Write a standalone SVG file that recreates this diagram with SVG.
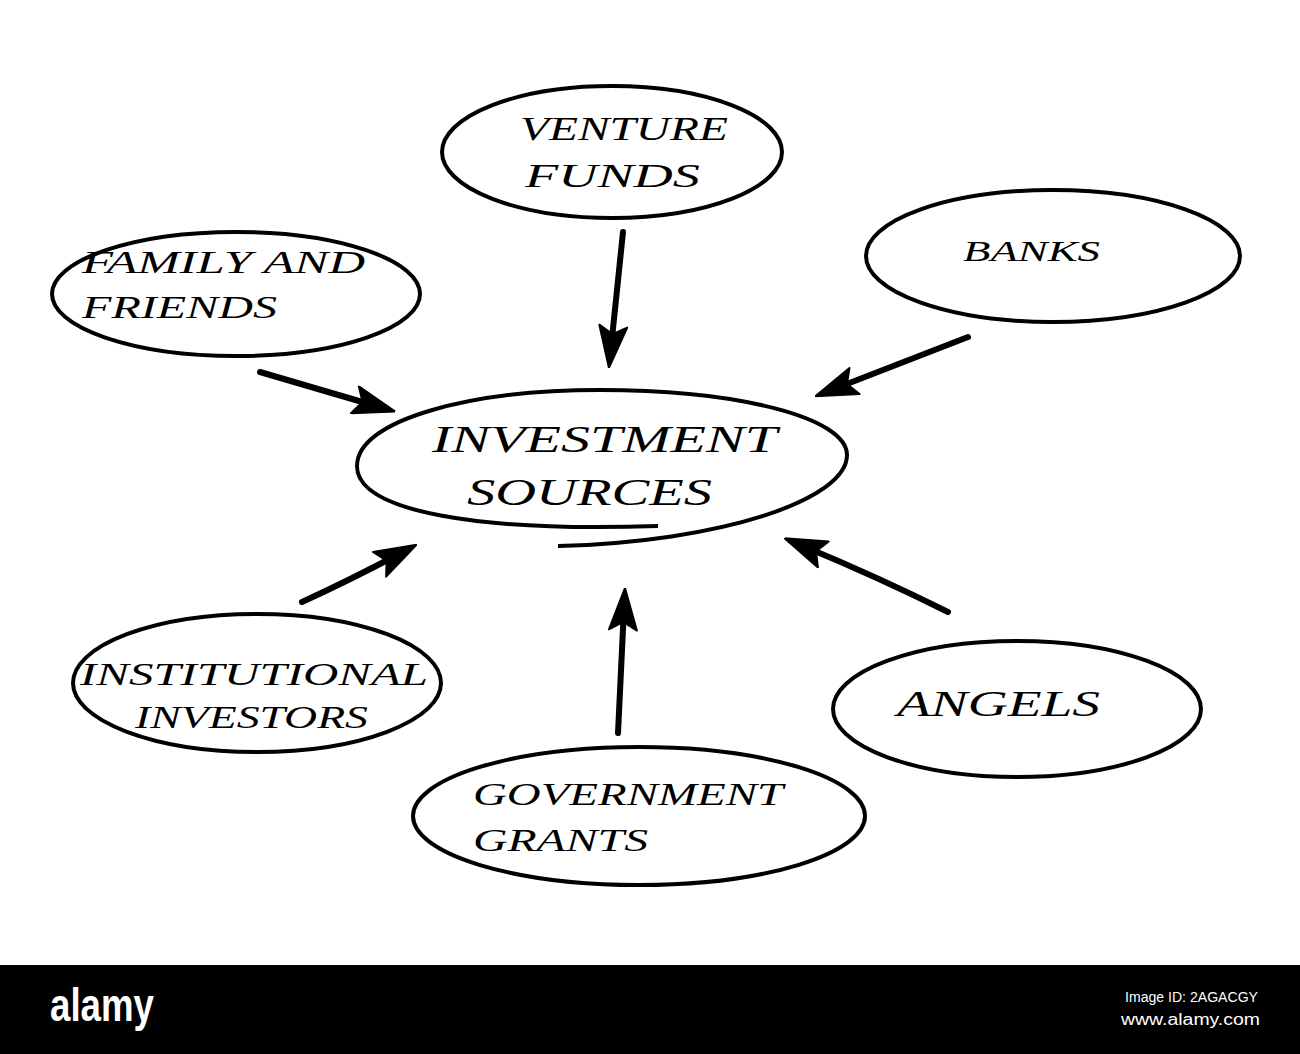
<svg xmlns="http://www.w3.org/2000/svg" width="1300" height="1054" viewBox="0 0 1300 1054">
  <style>
    .shape { fill: none; stroke: #000; stroke-width: 4; }
    .lbl { font-family: "Liberation Serif", "DejaVu Serif", serif; font-style: italic; fill: #000; }
    .conn { fill: none; stroke: #000; stroke-width: 6; stroke-linecap: round; stroke-linejoin: round; }
    .wm { font-family: "Liberation Sans", "DejaVu Sans", sans-serif; fill: #fff; }
  </style>
  <defs>
    <marker id="head" viewBox="0 0 44 30" refX="24" refY="15" markerWidth="44" markerHeight="30" markerUnits="userSpaceOnUse" orient="auto">
      <path d="M2,1 L44,15 L2,29 L10,15 Z" fill="#000" stroke="#000" stroke-width="2" stroke-linejoin="round"/>
    </marker>
  </defs>
  <rect x="0" y="0" width="1300" height="1054" fill="#fff"/>

  <g id="connectors">
    <path class="conn" d="M623 232 Q617 290 611 348" marker-end="url(#head)"/>
    <path class="conn" d="M260 372 L376 406" marker-end="url(#head)"/>
    <path class="conn" d="M968 337 L834 389" marker-end="url(#head)"/>
    <path class="conn" d="M302 602 Q350 580 399 554" marker-end="url(#head)"/>
    <path class="conn" d="M618 733 Q621 670 624 608" marker-end="url(#head)"/>
    <path class="conn" d="M948 612 Q880 578 803 546" marker-end="url(#head)"/>
  </g>

  <g id="investment-sources">
    <path class="shape" d="M658 526 C 480 532, 357 512, 357 466 C 357 420, 470 390, 600 390 C 740 390, 847 418, 847 455 C 847 500, 720 542, 558 546"/>
    <text class="lbl" x="432" y="452" font-size="38" textLength="345" lengthAdjust="spacingAndGlyphs">INVESTMENT</text>
    <text class="lbl" x="467" y="505" font-size="38" textLength="245" lengthAdjust="spacingAndGlyphs">SOURCES</text>
  </g>

  <g id="venture-funds">
    <ellipse class="shape" cx="612" cy="152" rx="170" ry="66"/>
    <text class="lbl" x="520" y="140" font-size="33" textLength="208" lengthAdjust="spacingAndGlyphs">VENTURE</text>
    <text class="lbl" x="525" y="187" font-size="33" textLength="175" lengthAdjust="spacingAndGlyphs">FUNDS</text>
  </g>

  <g id="family-friends">
    <ellipse class="shape" cx="236" cy="294" rx="184" ry="62"/>
    <text class="lbl" x="82" y="273" font-size="32" textLength="283" lengthAdjust="spacingAndGlyphs">FAMILY AND</text>
    <text class="lbl" x="82" y="318" font-size="32" textLength="195" lengthAdjust="spacingAndGlyphs">FRIENDS</text>
  </g>

  <g id="banks">
    <ellipse class="shape" cx="1053" cy="256" rx="187" ry="66"/>
    <text class="lbl" x="963" y="261" font-size="30" textLength="137" lengthAdjust="spacingAndGlyphs">BANKS</text>
  </g>

  <g id="institutional-investors">
    <ellipse class="shape" cx="257" cy="683" rx="184" ry="69"/>
    <text class="lbl" x="80" y="685" font-size="31" textLength="348" lengthAdjust="spacingAndGlyphs">INSTITUTIONAL</text>
    <text class="lbl" x="135" y="728" font-size="31" textLength="233" lengthAdjust="spacingAndGlyphs">INVESTORS</text>
  </g>

  <g id="government-grants">
    <ellipse class="shape" cx="639" cy="816" rx="226" ry="69"/>
    <text class="lbl" x="473" y="805" font-size="32" textLength="310" lengthAdjust="spacingAndGlyphs">GOVERNMENT</text>
    <text class="lbl" x="473" y="851" font-size="32" textLength="175" lengthAdjust="spacingAndGlyphs">GRANTS</text>
  </g>

  <g id="angels">
    <ellipse class="shape" cx="1017" cy="709" rx="184" ry="68"/>
    <text class="lbl" x="897" y="716" font-size="36" textLength="203" lengthAdjust="spacingAndGlyphs">ANGELS</text>
  </g>

  <g id="watermark-bar">
    <rect x="0" y="965" width="1300" height="89" fill="#000"/>
    <text class="wm" x="50" y="1021" font-size="46" font-weight="bold" textLength="104" lengthAdjust="spacingAndGlyphs">alamy</text>
    <text class="wm" x="1125" y="1002" font-size="14" textLength="133" lengthAdjust="spacingAndGlyphs">Image ID: 2AGACGY</text>
    <text class="wm" x="1121" y="1025" font-size="16" textLength="139" lengthAdjust="spacingAndGlyphs">www.alamy.com</text>
  </g>
</svg>
